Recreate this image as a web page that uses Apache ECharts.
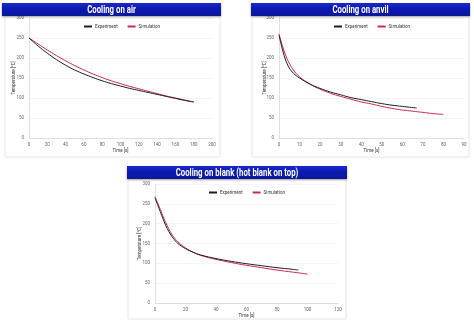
<!DOCTYPE html>
<html><head><meta charset="utf-8">
<script src="https://cdn.jsdelivr.net/npm/echarts@6/dist/echarts.min.js"></script>
<style>html,body{margin:0;padding:0;background:#fff}#c{width:474px;height:322px}</style>
</head><body><div id="c"></div>
<script>
// ---- data ----
const titles = ["Cooling on air", "Cooling on anvil", "Cooling on blank (hot blank on top)"];
const seriesNames = ["Experiment", "Simulation"];
const xAxisName = "Time [s]";
const yAxisName = "Temperature [°C]";

const airExpX = [0,10,20,30,40,50,60,70,80,90,100,110,120,130,140,150,160,170,180];
const airExpY = [250,230,212,196,182,170,160,151,143,136,130,124,119,114,109,104,99,94,90];
const airSimX = [0,10,20,30,40,50,60,70,80,90,100,110,120,130,140,150,160,170,180];
const airSimY = [250,235,220,206,193,181,170,160,151,143,136,129,123,117,111,105,100,95,90];

const anvilExpX = [0,1,2,3,4,5,7,10,15,20,25,30,35,40,45,50,55,60,67];
const anvilExpY = [258,235,215,198,185,175,162,150,135,124,115,108,101,96,91,86,82,79,75];
const anvilSimX = [0,1,2,3,4,5,7,10,15,20,25,30,35,40,45,50,55,60,65,70,75,80];
const anvilSimY = [260,242,225,210,197,187,170,153,135,122,112,104,97,90,85,79,74,70,67,64,61,59];

const blankExpX = [0,2,4,6,8,10,12,15,20,25,30,40,50,60,70,80,90,94];
const blankExpY = [265,245,225,205,188,174,163,150,137,128,121,112,105,99,94,89,85,83];
const blankSimX = [0,2,4,6,8,10,12,15,20,25,30,40,50,60,70,80,90,100];
const blankSimY = [268,250,231,212,195,180,168,154,139,128,120,110,102,95,89,83,78,73];

const xTicks = [{max:200, interval:20},{max:90, interval:10},{max:120, interval:20}];
const yTicks = {min:0, max:300, interval:50};

// ---- layout ----
const grids = [
  {left:29, width:183, top:18, height:120},
  {left:279, width:185, top:18, height:120},
  {left:155, width:183, top:184, height:119}
];
const bars = [
  {x:2, y:3, w:219, h:13},
  {x:251, y:3, w:219, h:13},
  {x:127, y:166, w:220, h:13}
];
const boxes = [
  {x:5, y:16, w:215, h:141},
  {x:252, y:16, w:217, h:141},
  {x:128, y:179, w:218, h:140}
];
const legendTop = [19, 19, 185];
const legendCenter = [111, 361, 236];
const yNameX = [14, 265, 140];

const zip = (xs, ys) => xs.map((x,i)=>[x, ys[i]]);
const data = [
  [zip(airExpX, airExpY), zip(airSimX, airSimY)],
  [zip(anvilExpX, anvilExpY), zip(anvilSimX, anvilSimY)],
  [zip(blankExpX, blankExpY), zip(blankSimX, blankSimY)]
];
const colors = ["#1e1e1e", "#cc2a4c"];
const labelColor = "#666";
const font = "Roboto";

const graphic = [];
boxes.forEach(b => graphic.push({type:'rect', shape:{x:b.x,y:b.y,width:b.w,height:b.h},
  style:{fill:'#fff', stroke:'#ececec', lineWidth:1, shadowBlur:2, shadowColor:'rgba(0,0,0,0.06)'}, z:-10}));
bars.forEach((b,i) => {
  graphic.push({type:'rect', shape:{x:b.x,y:b.y,width:b.w,height:b.h},
    style:{fill:{type:'linear',x:0,y:0,x2:0,y2:1,colorStops:[{offset:0,color:'#1a28c8'},{offset:0.5,color:'#0a18b0'},{offset:1,color:'#0c1898'}]},
      shadowBlur:2, shadowColor:'rgba(0,0,0,0.35)', shadowOffsetY:1}, z:1});
  graphic.push({type:'text', x:b.x+b.w/2, y:b.y+b.h/2+0.5, scaleX:0.78, originX:0, originY:0,
    style:{text:titles[i], fill:'#fff', font:"bold 10px Roboto, sans-serif", textAlign:'center', textVerticalAlign:'middle'}, z:2});
});
grids.forEach((g,i) => {
  graphic.push({type:'text', x:yNameX[i], y:g.top+g.height/2, rotation:Math.PI/2,
    style:{text:yAxisName, fill:'#333', font:"4.5px Roboto", textAlign:'center', textVerticalAlign:'middle'}, z:2});
});

const option = {
  animation:false,
  graphic: graphic,
  grid: grids.map(g=>({left:g.left, top:g.top, width:g.width, height:g.height, containLabel:false})),
  legend: grids.map((g,i)=>({
    data: seriesNames.map(n=>({name:n})),
    top: legendTop[i], left: legendCenter[i]-32,
    itemWidth:8, itemHeight:2, itemGap:10, icon:'rect',
    textStyle:{fontSize:4.5, color:'#333', fontFamily:font, padding:[0,0,0,-2]},
    selectedMode:false
  })),
  xAxis: grids.map((g,i)=>({
    type:'value', gridIndex:i, min:0, max:xTicks[i].max, interval:xTicks[i].interval,
    name:xAxisName, nameLocation:'middle', nameGap:9,
    nameTextStyle:{fontSize:4.5, color:'#333', fontFamily:font},
    axisLine:{lineStyle:{color:'#d8d8d8', width:0.8}},
    axisTick:{show:false},
    axisLabel:{fontSize:4.5, color:labelColor, margin:4, fontFamily:font},
    splitLine:{show:false}
  })),
  yAxis: grids.map((g,i)=>({
    type:'value', gridIndex:i, min:yTicks.min, max:yTicks.max, interval:yTicks.interval,
    axisLine:{show:true, lineStyle:{color:'#d8d8d8', width:0.8}},
    axisTick:{show:false},
    axisLabel:{fontSize:4.5, color:labelColor, margin:5, fontFamily:font},
    splitLine:{lineStyle:{color:'#efefef', width:0.6}}
  })),
  series: []
};
data.forEach((pair,i)=>{
  pair.forEach((d,j)=>{
    option.series.push({
      type:'line', name:seriesNames[j], xAxisIndex:i, yAxisIndex:i, data:d,
      smooth:0.4, showSymbol:false, symbol:'none',
      lineStyle:{color:colors[j], width:1}, itemStyle:{color:colors[j]}, z: j===0?3:2
    });
  });
});
const chart = echarts.init(document.getElementById('c'), null, {renderer:'canvas'});
chart.setOption(option);
</script>
</body></html>
